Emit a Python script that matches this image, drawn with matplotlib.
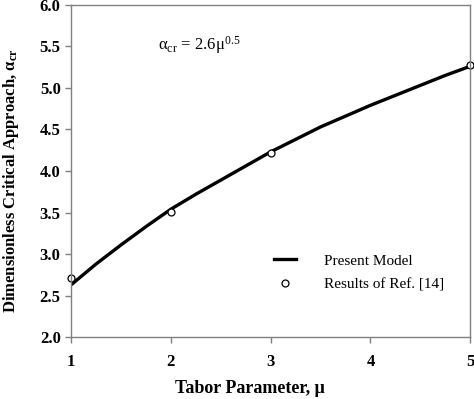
import matplotlib
matplotlib.use('Agg')
import matplotlib.pyplot as plt

plt.rcParams['font.family'] = 'Liberation Serif'
plt.rcParams['mathtext.fontset'] = 'custom'
plt.rcParams['mathtext.rm'] = 'Liberation Serif'
plt.rcParams['mathtext.it'] = 'Liberation Serif:italic'
plt.rcParams['mathtext.bf'] = 'Liberation Serif:bold'

# model curve
mu_model = [1.0, 1.25, 1.5, 1.75, 2.0, 2.25, 2.5, 2.75, 3.0,
            3.25, 3.5, 3.75, 4.0, 4.25, 4.5, 4.75, 5.0]
alpha_model = [2.63, 2.88, 3.11, 3.33, 3.54, 3.72, 3.89, 4.06, 4.23,
               4.38, 4.53, 4.66, 4.79, 4.91, 5.03, 5.15, 5.26]

# Ref. [14] points
mu_ref = [1, 2, 3, 5]
alpha_ref = [2.71, 3.51, 4.22, 5.27]

xticks = [1, 2, 3, 4, 5]
yticks = [2.0, 2.5, 3.0, 3.5, 4.0, 4.5, 5.0, 5.5, 6.0]

fig = plt.figure(figsize=(4.74, 3.99), dpi=100)
ax = fig.add_axes([0.150, 0.155, 0.842, 0.833])

ax.plot(mu_model, alpha_model, color='black', lw=2.4, solid_joinstyle='round',
        label='Present Model')
ax.plot(mu_ref, alpha_ref, 'o', mfc='white', mec='black', ms=5, mew=0.9,
        clip_on=False, label='Results of Ref. [14]')

ax.set_xlim(1, 5)
ax.set_ylim(2.0, 6.0)
ax.set_xticks(xticks)
ax.set_yticks(yticks)
ax.set_xticklabels([str(t) for t in xticks], fontweight='bold', fontsize=12)
ax.set_yticklabels(['%.1f' % t for t in yticks], fontweight='bold', fontsize=12)

for s in ax.spines.values():
    s.set_color('#808080')
    s.set_linewidth(1.0)
ax.tick_params(direction='out', length=4, color='#808080', width=1.0)
ax.tick_params(axis='x', pad=8)

ax.set_xlabel('Tabor Parameter, μ', fontsize=13, fontweight='bold')
ax.xaxis.set_label_coords(0.449, -0.13)
ax.set_ylabel(r'Dimensionless Critical Approach, $\mathbf{α_{cr}}$',
              fontsize=12, fontweight='bold')
ax.yaxis.set_label_coords(-0.125, 0.47)

ax.text(0.218, 0.88, r'$\mathrm{α_{cr}\,=\,2.6μ^{0.5}}$', transform=ax.transAxes,
        fontsize=12, va='center')

leg = ax.legend(loc='upper left', bbox_to_anchor=(0.509, 0.25), frameon=False,
                fontsize=11, borderpad=0, borderaxespad=0,
                handlelength=1.45, handletextpad=1.8, labelspacing=0.65)

fig.savefig('out.png', dpi=100)
